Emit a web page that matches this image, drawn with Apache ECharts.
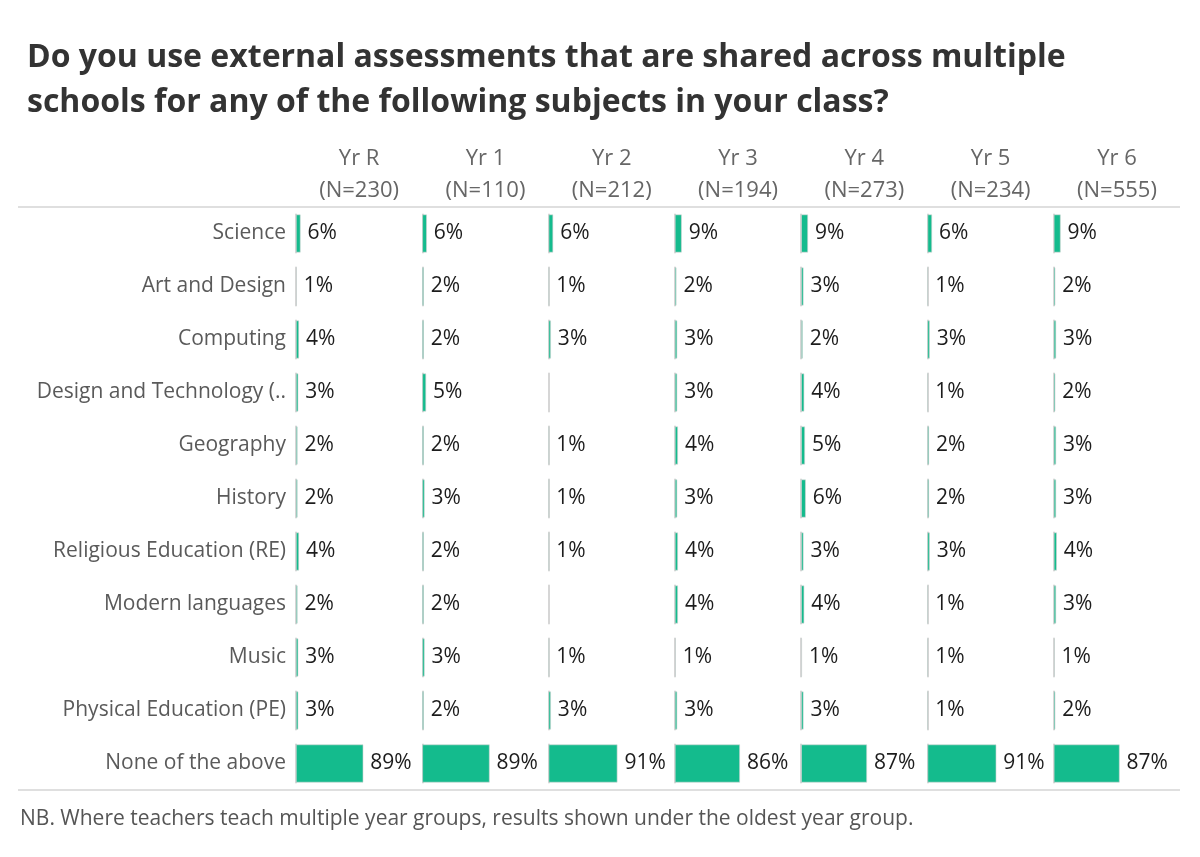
<!DOCTYPE html>
<html>
<head>
<meta charset="utf-8">
<script src="https://cdn.jsdelivr.net/npm/echarts@6/dist/echarts.min.js"></script>
<style>
  html, body { margin: 0; padding: 0; background: #fff; }
  #chart { width: 1200px; height: 857px; }
</style>
</head>
<body>
<div id="chart"></div>
<script>
// subjects (rows) and year groups (columns)
const subjects = ['Science', 'Art and Design', 'Computing', 'Design and Technology (..', 'Geography',
  'History', 'Religious Education (RE)', 'Modern languages', 'Music', 'Physical Education (PE)', 'None of the above'];
const years = ['Yr R', 'Yr 1', 'Yr 2', 'Yr 3', 'Yr 4', 'Yr 5', 'Yr 6'];
const sampleSizes = [230, 110, 212, 194, 273, 234, 555];

// % of teachers per subject, one array per year group (null = no answer)
const yrR = [6, 1, 4, 3, 2, 2, 4, 2, 3, 3, 89];
const yr1 = [6, 2, 2, 5, 2, 3, 2, 2, 3, 2, 89];
const yr2 = [6, 1, 3, null, 1, 1, 1, null, 1, 3, 91];
const yr3 = [9, 2, 3, 3, 4, 3, 4, 4, 1, 3, 86];
const yr4 = [9, 3, 2, 4, 5, 6, 3, 4, 1, 3, 87];
const yr5 = [6, 1, 3, 1, 2, 2, 3, 1, 1, 1, 91];
const yr6 = [9, 2, 3, 2, 3, 3, 4, 3, 1, 2, 87];
const yearValues = [yrR, yr1, yr2, yr3, yr4, yr5, yr6];

const FONT = '"Open Sans"';
const colLeft = 296, colWidth = 126.3;
const gridTop = 207, gridBottom = 790;
const rowH = (gridBottom - gridTop) / subjects.length;
const barH = 38;
const gapH = rowH - barH;

let grids = [], xAxes = [], yAxes = [], series = [], graphics = [];

years.forEach((yr, i) => {
  const left = colLeft + i * colWidth;
  grids.push({ left: left, top: gridTop, width: colWidth, height: gridBottom - gridTop });
  xAxes.push({
    type: 'value', gridIndex: i, min: 0, max: 167, show: false
  });
  yAxes.push({
    type: 'category', gridIndex: i, data: subjects, inverse: true,
    axisTick: { show: false },
    axisLine: {
      show: true,
      lineStyle: { color: '#d6d6d6', width: 2, type: [barH, gapH], dashOffset: barH + gapH / 2 }
    },
    axisLabel: {
      show: i === 0, margin: 10, fontFamily: FONT, fontSize: 21, color: '#5a5a5a',
      padding: [5, 0, 0, 0]
    },
    splitLine: { show: false }
  });
  series.push({
    type: 'bar', xAxisIndex: i, yAxisIndex: i,
    data: yearValues[i].map(v => v === null ? '-' : v),
    barWidth: barH,
    itemStyle: { color: '#14bb8d', borderColor: '#d4d4d4', borderWidth: 0.6 },
    label: {
      show: true, position: 'right', distance: 7,
      formatter: p => p.value + '%',
      fontFamily: FONT, fontSize: 21, color: '#1c1c1c',
      padding: [5, 0, 0, 0]
    },
    silent: true
  });
  // column header: year + sample size
  graphics.push({
    type: 'text', x: left + colWidth / 2, y: 159,
    style: { text: yr, textAlign: 'center', textVerticalAlign: 'middle',
      font: '22px ' + FONT, fill: '#666' }
  });
  graphics.push({
    type: 'text', x: left + colWidth / 2, y: 191,
    style: { text: '(N=' + sampleSizes[i] + ')', textAlign: 'center', textVerticalAlign: 'middle',
      font: '22px ' + FONT, fill: '#666' }
  });
});

graphics.push({
  type: 'line', shape: { x1: 18, y1: gridTop, x2: 1180, y2: gridTop },
  style: { stroke: '#d4d4d4', lineWidth: 1.5 }
});
graphics.push({
  type: 'line', shape: { x1: 18, y1: gridBottom, x2: 1180, y2: gridBottom },
  style: { stroke: '#d4d4d4', lineWidth: 1.5 }
});
graphics.push({
  type: 'text', x: 27, y: 58,
  style: { text: 'Do you use external assessments that are shared across multiple', textVerticalAlign: 'middle',
    font: 'bold 32px ' + FONT, fill: '#333' }
});
graphics.push({
  type: 'text', x: 27, y: 103,
  style: { text: 'schools for any of the following subjects in your class?', textVerticalAlign: 'middle',
    font: 'bold 32px ' + FONT, fill: '#333' }
});
graphics.push({
  type: 'text', x: 20, y: 819,
  style: { text: 'NB. Where teachers teach multiple year groups, results shown under the oldest year group.',
    textVerticalAlign: 'middle', font: '21px ' + FONT, fill: '#555' }
});

const chart = echarts.init(document.getElementById('chart'));
chart.setOption({
  animation: false,
  grid: grids,
  xAxis: xAxes,
  yAxis: yAxes,
  series: series,
  graphic: graphics
});
</script>
</body>
</html>
